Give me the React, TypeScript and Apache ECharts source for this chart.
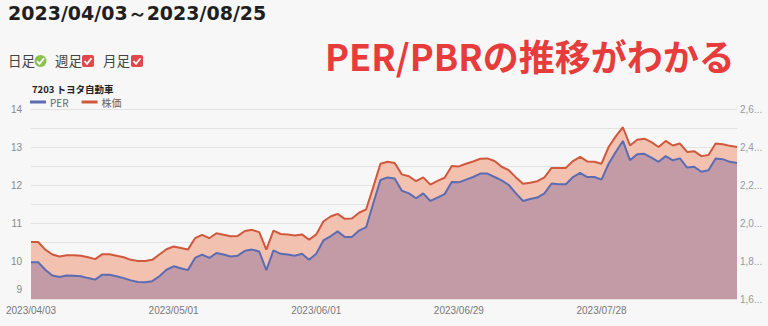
import React, { useEffect, useRef } from "react";
import * as echarts from "echarts";

// Trading days (2023) by month
const aprDays = ["03","04","05","06","07","10","11","12","13","14","17","18","19","20","21","24","25","26","27","28"];
const mayDays = ["01","02","08","09","10","11","12","15","16","17","18","19","22","23","24","25","26","29","30","31"];
const junDays = ["01","02","05","06","07","08","09","12","13","14","15","16","19","20","21","22","23","26","27","28","29","30"];
const julDays = ["03","04","05","06","07","10","11","12","13","14","18","19","20","21","24","25","26","27","28","31"];
const augDays = ["01","02","03","04","07","08","09","10","14","15","16","17","18","21","22","23","24","25"];

const categories: string[] = [
  ...aprDays.map((d) => `2023/04/${d}`),
  ...mayDays.map((d) => `2023/05/${d}`),
  ...junDays.map((d) => `2023/06/${d}`),
  ...julDays.map((d) => `2023/07/${d}`),
  ...augDays.map((d) => `2023/08/${d}`),
];

// PER (left axis)
const perValues = [
  9.97, 9.97, 9.77, 9.62, 9.58, 9.62, 9.61, 9.6, 9.55, 9.51,
  9.64, 9.64, 9.6, 9.55, 9.49, 9.45, 9.44, 9.47, 9.6, 9.77,
  9.86, 9.81, 9.76, 10.08, 10.17, 10.08, 10.21, 10.17, 10.12, 10.14,
  10.27, 10.3, 10.25, 9.76, 10.28, 10.19, 10.17, 10.14, 10.19, 10.03,
  10.19, 10.54, 10.65, 10.78, 10.63, 10.63, 10.8, 10.89, 11.52, 12.13,
  12.2, 12.17, 11.85, 11.78, 11.65, 11.78, 11.58, 11.67, 11.76, 12.08,
  12.07, 12.14, 12.21, 12.3, 12.3, 12.21, 12.12, 12.0, 11.78, 11.58,
  11.63, 11.67, 11.78, 12.04, 12.02, 12.02, 12.21, 12.32, 12.21, 12.21,
  12.14, 12.56, 12.87, 13.16, 12.65, 12.81, 12.82, 12.72, 12.61, 12.76,
  12.65, 12.7, 12.46, 12.48, 12.35, 12.39, 12.7, 12.68, 12.61, 12.58,
];

// 株価 (right axis, yen)
const priceValues = [
  1900, 1900, 1860, 1834, 1824, 1830, 1830, 1828, 1820, 1810,
  1836, 1836, 1828, 1820, 1806, 1800, 1800, 1806, 1834, 1862,
  1876, 1868, 1860, 1920, 1938, 1920, 1946, 1938, 1930, 1932,
  1958, 1964, 1952, 1860, 1960, 1942, 1940, 1934, 1940, 1912,
  1940, 2008, 2034, 2048, 2022, 2024, 2054, 2072, 2190, 2312,
  2322, 2316, 2256, 2246, 2220, 2240, 2202, 2222, 2238, 2300,
  2298, 2312, 2324, 2338, 2340, 2326, 2296, 2278, 2240, 2206,
  2212, 2220, 2240, 2290, 2290, 2290, 2326, 2348, 2324, 2322,
  2312, 2400, 2456, 2504, 2408, 2438, 2444, 2426, 2400, 2432,
  2408, 2418, 2374, 2378, 2352, 2358, 2418, 2414, 2406, 2400,
];

const leftTicks = { min: 9, max: 14, interval: 0.5 };
const rightTicks = { min: 1600, max: 2600, interval: 200 };

const titleText = "2023/04/03～2023/08/25";
const headline = "PER/PBRの推移がわかる";
const chartTitle = "7203 トヨタ自動車";

export default function App() {
  const ref = useRef<HTMLDivElement>(null);
  useEffect(() => {
    if (!ref.current) return;
    const chart = echarts.init(ref.current, null, { renderer: "svg" });
    const cjk = '"Noto Sans CJK JP", "Noto Sans", sans-serif';
    const axisFont = '"Liberation Sans", Arial, sans-serif';
    const check = (cx: number, cy: number) => ({
      type: "polyline",
      shape: { points: [[cx - 3.5, cy], [cx - 1, cy + 2.8], [cx + 3.5, cy - 2.8]] },
      style: { stroke: "#fff", lineWidth: 1.8, fill: null },
      z: 11,
    });
    chart.setOption({
      animation: false,
      backgroundColor: "#f7f7f7",
      textStyle: { fontFamily: axisFont },
      grid: { left: 31, right: 31, top: 109, bottom: 27, containLabel: false },
      legend: {
        data: ["PER", "株価"],
        left: 30,
        top: 97,
        icon: "rect",
        itemWidth: 16,
        itemHeight: 3,
        itemGap: 13,
        padding: 0,
        textStyle: { fontSize: 10, lineHeight: 10, color: "#666", fontFamily: cjk, padding: [0, 0, 0, -1] },
      },
      graphic: [
        {
          type: "text",
          left: 8,
          top: 3,
          style: { text: titleText, font: 'bold 19px "DejaVu Sans", sans-serif', fill: "#1f1f1f" },
        },
        { type: "text", left: 8, top: 53, style: { text: "日足", font: `13.5px ${cjk}`, fill: "#444" } },
        { type: "circle", shape: { cx: 40.5, cy: 61, r: 6 }, style: { fill: "#8cc152" }, z: 10 },
        check(40.5, 61),
        { type: "text", left: 55, top: 53, style: { text: "週足", font: `13.5px ${cjk}`, fill: "#444" } },
        { type: "rect", shape: { x: 82, y: 55, width: 12, height: 12, r: 2 }, style: { fill: "#e2474c" }, z: 10 },
        check(88, 61),
        { type: "text", left: 103, top: 53, style: { text: "月足", font: `13.5px ${cjk}`, fill: "#444" } },
        { type: "rect", shape: { x: 131, y: 55, width: 12, height: 12, r: 2 }, style: { fill: "#e2474c" }, z: 10 },
        check(137, 61),
        {
          type: "text",
          left: 325,
          top: 37,
          style: { text: headline, font: `bold 36px ${cjk}`, fill: "#e63c3c" },
        },
        {
          type: "text",
          left: 32,
          top: 84,
          style: { text: chartTitle, font: `bold 9.5px ${cjk}`, fill: "#222" },
        },
      ],
      xAxis: {
        type: "category",
        data: categories,
        boundaryGap: false,
        axisLine: { show: false },
        axisTick: { show: false },
        axisLabel: {
          interval: (idx: number) => idx % 20 === 0,
          fontSize: 10,
          color: "#777",
          margin: 6,
        },
        splitLine: { show: false },
      },
      yAxis: [
        {
          type: "value",
          position: "left",
          min: leftTicks.min,
          max: leftTicks.max,
          interval: leftTicks.interval,
          axisLine: { show: false },
          axisTick: { show: false },
          axisLabel: {
            fontSize: 10,
            color: "#888",
            margin: 9,
            formatter: (v: number) =>
              Number.isInteger(v) ? (v === leftTicks.min ? `{low|${v}}` : String(v)) : "",
            rich: { low: { fontSize: 10, color: "#888", padding: [0, 0, 20, 0] } },
          },
          splitLine: { lineStyle: { color: "#e3e3e3", width: 1 } },
        },
        {
          type: "value",
          position: "right",
          min: rightTicks.min,
          max: rightTicks.max,
          interval: rightTicks.interval,
          axisLine: { show: false },
          axisTick: { show: false },
          axisLabel: {
            fontSize: 10,
            color: "#999",
            margin: 3,
            formatter: (v: number) => (v / 1000).toFixed(1).replace(".", ",") + "...",
          },
          splitLine: { show: false },
        },
      ],
      series: [
        {
          name: "株価",
          type: "line",
          yAxisIndex: 1,
          data: priceValues,
          color: "#d0583c",
          showSymbol: false,
          symbol: "none",
          lineStyle: { color: "#d0583c", width: 2 },
          areaStyle: { color: "#f3c1b0", opacity: 1 },
          z: 2,
        },
        {
          name: "PER",
          type: "line",
          yAxisIndex: 0,
          data: perValues,
          color: "#5b6cb3",
          showSymbol: false,
          symbol: "none",
          lineStyle: { color: "#5b6cb3", width: 2 },
          areaStyle: { color: "#c39ba6", opacity: 1 },
          z: 3,
        },
      ],
    });
    return () => chart.dispose();
  }, []);
  return (
    <div
      ref={ref}
      style={{ position: "fixed", left: 0, top: 0, width: 768, height: 326, background: "#f7f7f7" }}
    />
  );
}
